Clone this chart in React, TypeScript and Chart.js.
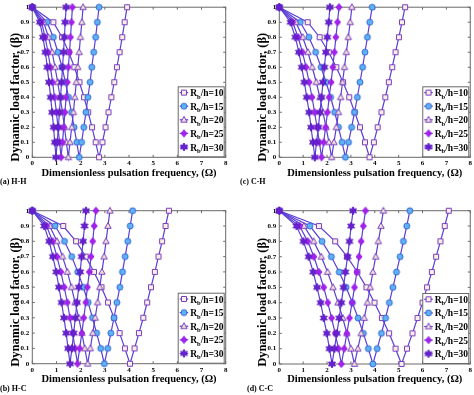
import React, { useEffect, useRef } from 'react';
import { Chart, registerables } from 'chart.js';

Chart.register(...registerables);

// Dynamic load factor (beta) along each curve: left branch down to 0, right branch back up to 1
const BETA = [1, 0.9, 0.8, 0.7, 0.6, 0.5, 0.4, 0.3, 0.2, 0.1, 0, 0.1, 0.2, 0.3, 0.4, 0.5, 0.6, 0.7, 0.8, 0.9, 1];
const X_TICKS = [0, 1, 2, 3, 4, 5, 6, 7, 8];
const Y_TICKS = [0, 0.1, 0.2, 0.3, 0.4, 0.5, 0.6, 0.7, 0.8, 0.9, 1];
const SERIES_LABELS = ['10', '15', '20', '25', '30'];
const CAPTIONS = ['(a) H-H', '(b) H-C', '(c) C-H', '(d) C-C'];
const X_TITLE = 'Dimensionless pulsation frequency, (\u03A9)';
const Y_TITLE = 'Dynamic load factor, (\u03B2)';

// (a) H-H  — Omega values
const HH_10 = [0, 0.87, 1.23, 1.51, 1.74, 1.95, 2.14, 2.31, 2.47, 2.62, 2.76, 2.90, 3.03, 3.15, 3.27, 3.39, 3.50, 3.61, 3.72, 3.82, 3.92];
const HH_15 = [0, 0.61, 0.87, 1.06, 1.23, 1.37, 1.50, 1.62, 1.73, 1.84, 1.94, 2.04, 2.13, 2.22, 2.30, 2.39, 2.46, 2.54, 2.62, 2.69, 2.76];
const HH_20 = [0, 0.47, 0.67, 0.82, 0.94, 1.05, 1.15, 1.25, 1.33, 1.41, 1.49, 1.56, 1.63, 1.70, 1.76, 1.82, 1.88, 1.94, 1.99, 2.05, 2.10];
const HH_25 = [0, 0.38, 0.53, 0.65, 0.75, 0.84, 0.92, 1.00, 1.06, 1.13, 1.19, 1.25, 1.30, 1.35, 1.40, 1.45, 1.49, 1.54, 1.58, 1.62, 1.66];
const HH_30 = [0, 0.31, 0.44, 0.54, 0.62, 0.69, 0.76, 0.82, 0.88, 0.93, 0.98, 1.03, 1.08, 1.12, 1.17, 1.21, 1.25, 1.29, 1.33, 1.36, 1.40];

// (c) C-H
const CH_10 = [0, 1.19, 1.69, 2.07, 2.39, 2.67, 2.93, 3.16, 3.38, 3.59, 3.78, 3.96, 4.12, 4.28, 4.44, 4.59, 4.73, 4.87, 5.01, 5.14, 5.27];
const CH_15 = [0, 0.88, 1.24, 1.52, 1.75, 1.96, 2.15, 2.32, 2.48, 2.63, 2.77, 2.90, 3.03, 3.15, 3.27, 3.38, 3.49, 3.59, 3.69, 3.79, 3.89];
const CH_20 = [0, 0.69, 0.98, 1.20, 1.38, 1.55, 1.70, 1.83, 1.96, 2.08, 2.19, 2.29, 2.39, 2.48, 2.57, 2.65, 2.73, 2.81, 2.89, 2.97, 3.04];
const CH_25 = [0, 0.56, 0.79, 0.97, 1.12, 1.25, 1.37, 1.48, 1.58, 1.68, 1.77, 1.86, 1.94, 2.02, 2.09, 2.17, 2.24, 2.31, 2.37, 2.44, 2.50];
const CH_30 = [0, 0.47, 0.67, 0.82, 0.94, 1.05, 1.15, 1.25, 1.33, 1.41, 1.49, 1.56, 1.64, 1.70, 1.77, 1.83, 1.89, 1.95, 2.01, 2.07, 2.12];

// (b) H-C
const HC_10 = [0, 1.28, 1.81, 2.21, 2.55, 2.86, 3.13, 3.38, 3.61, 3.83, 4.04, 4.23, 4.41, 4.59, 4.75, 4.91, 5.07, 5.22, 5.37, 5.51, 5.65];
const HC_15 = [0, 0.94, 1.33, 1.63, 1.88, 2.11, 2.31, 2.49, 2.66, 2.83, 2.98, 3.12, 3.25, 3.38, 3.50, 3.62, 3.73, 3.84, 3.95, 4.05, 4.15];
const HC_20 = [0, 0.72, 1.02, 1.25, 1.45, 1.62, 1.77, 1.92, 2.05, 2.17, 2.29, 2.40, 2.50, 2.60, 2.70, 2.79, 2.88, 2.97, 3.05, 3.13, 3.21];
const HC_25 = [0, 0.59, 0.84, 1.02, 1.18, 1.32, 1.45, 1.56, 1.67, 1.77, 1.87, 1.96, 2.05, 2.13, 2.21, 2.28, 2.36, 2.43, 2.50, 2.56, 2.63];
const HC_30 = [0, 0.49, 0.70, 0.85, 0.99, 1.10, 1.21, 1.31, 1.40, 1.48, 1.56, 1.64, 1.71, 1.78, 1.85, 1.92, 1.98, 2.04, 2.10, 2.16, 2.22];

// (d) C-C
const CC_10 = [0, 1.66, 2.34, 2.84, 3.27, 3.65, 3.99, 4.30, 4.60, 4.87, 5.12, 5.35, 5.58, 5.79, 6.00, 6.19, 6.39, 6.57, 6.75, 6.93, 7.10];
const CC_15 = [0, 1.28, 1.79, 2.18, 2.51, 2.80, 3.06, 3.30, 3.52, 3.73, 3.92, 4.10, 4.28, 4.45, 4.61, 4.76, 4.91, 5.06, 5.20, 5.34, 5.47];
const CC_20 = [0, 1.03, 1.44, 1.76, 2.02, 2.25, 2.46, 2.66, 2.83, 3.00, 3.15, 3.29, 3.43, 3.56, 3.69, 3.81, 3.92, 4.04, 4.15, 4.26, 4.36];
const CC_25 = [0, 0.85, 1.19, 1.45, 1.66, 1.86, 2.03, 2.19, 2.34, 2.48, 2.60, 2.72, 2.83, 2.94, 3.05, 3.15, 3.25, 3.34, 3.43, 3.52, 3.61];
const CC_30 = [0, 0.72, 1.01, 1.23, 1.42, 1.58, 1.73, 1.86, 1.99, 2.10, 2.21, 2.31, 2.41, 2.51, 2.60, 2.69, 2.77, 2.86, 2.94, 3.01, 3.09];

const LINE_COLOR = '#5a3ed8';
const FRAME_COLOR = '#6a6a6a';
const SERIF = '"Liberation Serif", "Times New Roman", "DejaVu Serif", serif';

type MarkerKind = 'square' | 'circle' | 'triangle' | 'diamond' | 'star';
const MARKERS: MarkerKind[] = ['square', 'circle', 'triangle', 'diamond', 'star'];

function makeMarker(kind: MarkerKind): HTMLCanvasElement {
  const S = 10;
  const c = document.createElement('canvas');
  c.width = S;
  c.height = S;
  const g = c.getContext('2d')!;
  const m = S / 2;
  g.lineWidth = 1;
  g.beginPath();
  if (kind === 'square') {
    g.rect(m - 2.5, m - 2.5, 5, 5);
    g.fillStyle = '#f6efe4';
    g.strokeStyle = '#7b3cc0';
  } else if (kind === 'circle') {
    g.arc(m, m, 3, 0, Math.PI * 2);
    g.fillStyle = '#5cb2f2';
    g.strokeStyle = '#3a68d6';
  } else if (kind === 'triangle') {
    g.moveTo(m, m - 3.4);
    g.lineTo(m + 3.2, m + 2.3);
    g.lineTo(m - 3.2, m + 2.3);
    g.closePath();
    g.fillStyle = '#efe5d6';
    g.strokeStyle = '#7b3cc0';
  } else if (kind === 'diamond') {
    g.moveTo(m, m - 3.6);
    g.lineTo(m + 3, m);
    g.lineTo(m, m + 3.6);
    g.lineTo(m - 3, m);
    g.closePath();
    g.fillStyle = '#a51ff0';
    g.strokeStyle = '#9320dc';
  } else {
    const outer = 4;
    const inner = 2;
    for (let k = 0; k < 12; k++) {
      const r = k % 2 === 0 ? outer : inner;
      const a = -Math.PI / 2 + (k * Math.PI) / 6;
      const px = m + r * Math.cos(a);
      const py = m + r * Math.sin(a);
      if (k === 0) g.moveTo(px, py);
      else g.lineTo(px, py);
    }
    g.closePath();
    g.fillStyle = '#6a20d2';
    g.strokeStyle = '#5a1cc0';
  }
  g.fill();
  g.stroke();
  return c;
}

type PanelDef = {
  caption: string;
  series: number[][];
  left: number;
  top: number;
  width: number;
  height: number;
  plotLeft: number;
  plotRight: number;
  plotTop: number;
  plotBottom: number;
  captionX: number;
};

const PANELS: PanelDef[] = [
  { caption: CAPTIONS[0], series: [HH_10, HH_15, HH_20, HH_25, HH_30], left: 0, top: 0, width: 237, height: 195, plotLeft: 32.3, plotRight: 225.7, plotTop: 4, plotBottom: 157.3, captionX: 0 },
  { caption: CAPTIONS[2], series: [CH_10, CH_15, CH_20, CH_25, CH_30], left: 237, top: 0, width: 237, height: 195, plotLeft: 42.3, plotRight: 235, plotTop: 4, plotBottom: 157.3, captionX: 3 },
  { caption: CAPTIONS[1], series: [HC_10, HC_15, HC_20, HC_25, HC_30], left: 0, top: 195, width: 237, height: 200, plotLeft: 32.3, plotRight: 225.7, plotTop: 15.7, plotBottom: 168.7, captionX: 0 },
  { caption: CAPTIONS[3], series: [CC_10, CC_15, CC_20, CC_25, CC_30], left: 237, top: 195, width: 237, height: 200, plotLeft: 42.3, plotRight: 235, plotTop: 15.7, plotBottom: 169, captionX: 10 },
];

function Panel({ def }: { def: PanelDef }) {
  const ref = useRef<HTMLCanvasElement | null>(null);

  useEffect(() => {
    if (!ref.current) return;
    const markers = MARKERS.map(makeMarker);

    const decor = {
      id: 'decor',
      beforeDatasetsDraw(chart: any) {
        const { ctx, chartArea: a, scales } = chart;
        ctx.save();
        ctx.strokeStyle = FRAME_COLOR;
        ctx.lineWidth = 1;
        ctx.strokeRect(a.left, a.top, a.right - a.left, a.bottom - a.top);
        const tl = 2.5;
        ctx.beginPath();
        X_TICKS.forEach((v) => {
          const px = scales.x.getPixelForValue(v);
          ctx.moveTo(px, a.bottom);
          ctx.lineTo(px, a.bottom - tl);
          ctx.moveTo(px, a.top);
          ctx.lineTo(px, a.top + tl);
        });
        Y_TICKS.forEach((v) => {
          const py = scales.y.getPixelForValue(v);
          ctx.moveTo(a.left, py);
          ctx.lineTo(a.left + tl, py);
          ctx.moveTo(a.right, py);
          ctx.lineTo(a.right - tl, py);
        });
        ctx.stroke();
        ctx.restore();
      },
      afterDraw(chart: any) {
        const { ctx, chartArea: a } = chart;
        ctx.save();
        ctx.fillStyle = '#000';
        // x title
        ctx.font = `bold 10.5px ${SERIF}`;
        ctx.textAlign = 'center';
        ctx.textBaseline = 'middle';
        ctx.fillText(X_TITLE, (a.left + a.right) / 2, a.bottom + 15.5);
        // y title
        ctx.save();
        ctx.translate(a.left - 17, (a.top + a.bottom) / 2 + 15);
        ctx.rotate(-Math.PI / 2);
        ctx.font = `bold 12.5px ${SERIF}`;
        ctx.fillText(Y_TITLE, 0, 0);
        ctx.restore();
        // caption
        ctx.font = `bold 8px ${SERIF}`;
        ctx.textAlign = 'left';
        ctx.fillText(def.caption, def.captionX, a.bottom + 25);

        // legend
        const bw = 46;
        const bh = 70;
        const bx = a.right - 1.5 - bw;
        const by = a.bottom - 0.5 - bh;
        ctx.fillStyle = '#fff';
        ctx.fillRect(bx, by, bw, bh);
        ctx.strokeStyle = FRAME_COLOR;
        ctx.lineWidth = 1;
        ctx.strokeRect(bx, by, bw, bh);
        SERIES_LABELS.forEach((lab, i) => {
          const ry = by + 5.8 + i * 13.6;
          ctx.strokeStyle = LINE_COLOR;
          ctx.lineWidth = 1.2;
          ctx.beginPath();
          ctx.moveTo(bx + 1.5, ry);
          ctx.lineTo(bx + 10, ry);
          ctx.stroke();
          const mk = markers[i];
          ctx.drawImage(mk, bx + 5.8 - mk.width / 2, ry - mk.height / 2);
          ctx.fillStyle = '#000';
          ctx.textAlign = 'left';
          ctx.textBaseline = 'alphabetic';
          let tx = bx + 12;
          ctx.font = `bold 9.5px ${SERIF}`;
          ctx.fillText('R', tx, ry + 3.5);
          tx += ctx.measureText('R').width;
          ctx.font = `bold 6.5px ${SERIF}`;
          ctx.fillText('b', tx, ry + 6);
          tx += ctx.measureText('b').width;
          ctx.font = `bold 9.5px ${SERIF}`;
          ctx.fillText('/h=' + lab, tx, ry + 3.5);
        });
        ctx.restore();
      },
    };

    const tickFont = { family: SERIF, size: 7, weight: 'bold' as const };

    const chart = new Chart(ref.current, {
      type: 'line',
      data: {
        datasets: def.series.map((omega, i) => ({
          label: 'Rb/h=' + SERIES_LABELS[i],
          data: omega.map((x, k) => ({ x, y: BETA[k] })),
          borderColor: LINE_COLOR,
          borderWidth: 1.2,
          pointStyle: markers[i] as any,
          pointRadius: 4,
          tension: 0,
          fill: false,
          clip: false as any,
          order: 5 - i,
        })),
      },
      options: {
        animation: false,
        responsive: false,
        devicePixelRatio: 1,
        events: [],
        layout: {
          autoPadding: false,
          padding: { left: 0, top: def.plotTop, right: def.width - def.plotRight, bottom: 0 },
        },
        plugins: {
          legend: { display: false },
          tooltip: { enabled: false },
        },
        scales: {
          x: {
            type: 'linear',
            min: 0,
            max: 8,
            ticks: { stepSize: 1, font: tickFont, color: '#000', padding: 2, maxRotation: 0, autoSkip: false },
            grid: { display: false, drawTicks: false },
            border: { display: false },
            afterFit: (s: any) => {
              s.height = def.height - def.plotBottom;
            },
          },
          y: {
            type: 'linear',
            min: 0,
            max: 1,
            ticks: {
              stepSize: 0.1,
              font: tickFont,
              color: '#000',
              padding: 3,
              autoSkip: false,
              callback: (v: any) => String(Math.round(Number(v) * 10) / 10),
            },
            grid: { display: false, drawTicks: false },
            border: { display: false },
            afterFit: (s: any) => {
              s.width = def.plotLeft;
            },
          },
        },
      },
      plugins: [decor],
    });
    return () => chart.destroy();
  }, [def]);

  return (
    <canvas
      ref={ref}
      width={def.width}
      height={def.height}
      style={{ position: 'absolute', left: def.left, top: def.top, width: def.width, height: def.height }}
    />
  );
}

export default function App() {
  return (
    <div style={{ position: 'absolute', left: 0, top: 0, width: 474, height: 395, background: '#fff', overflow: 'hidden' }}>
      {PANELS.map((p) => (
        <Panel key={p.caption} def={p} />
      ))}
    </div>
  );
}
